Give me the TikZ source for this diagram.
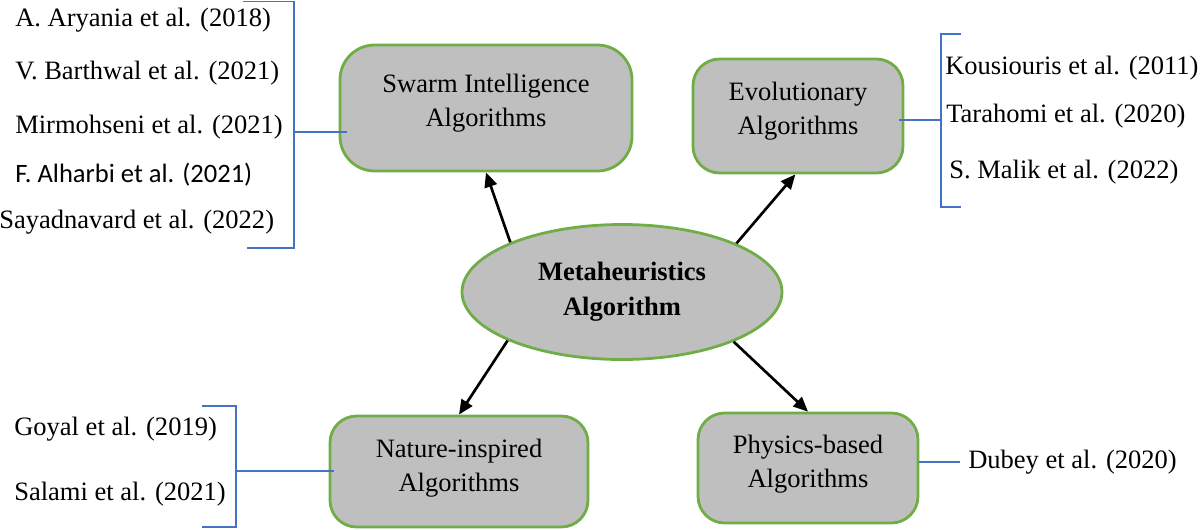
\documentclass[tikz,border=0pt]{standalone}
\usepackage{fontspec}
\setmainfont{Liberation Serif}
\newfontfamily\calfont{Carlito}
\usetikzlibrary{shapes.geometric,arrows.meta}
\definecolor{boxgreen}{HTML}{70AD47}
\definecolor{boxgray}{HTML}{BFBFBF}
\definecolor{brblue}{HTML}{4472C4}
\begin{document}
\begin{tikzpicture}[x=0.75pt,y=-0.75pt,
  every node/.style={font=\fontsize{19.9}{25.5}\selectfont},
  algbox/.style={draw=boxgreen, fill=boxgray, line width=2.1pt, rounded corners=20pt, inner sep=0pt},
  boxtext/.style={align=center, inner sep=0pt},
  reftext/.style={inner sep=0pt, anchor=west},
  bl/.style={draw=brblue, line width=1.1pt},
  arr/.style={line width=2pt, -{Triangle[length=11pt,width=9.5pt]}}]
\useasboundingbox (0,0) rectangle (1200,529);

% category boxes
\node[algbox, minimum width=219pt, minimum height=94.5pt, rounded corners=26pt] (swarm) at (486,108) {};
\node[boxtext] (swarmt) at ([yshift=3.5pt]swarm.center) {Swarm Intelligence\\Algorithms};
\node[algbox, minimum width=157.5pt, minimum height=85.5pt] (evo) at (798,116) {};
\node[boxtext] (evot) at ([yshift=4pt]evo.center) {Evolutionary\\Algorithms};
\node[algbox, minimum width=193.5pt, minimum height=83.25pt] (nature) at (459,471.5) {};
\node[boxtext] (naturet) at ([yshift=2.5pt]nature.center) {Nature-inspired\\Algorithms};
\node[algbox, minimum width=165pt, minimum height=82.5pt] (phys) at (808,468) {};
\node[boxtext] (physt) at ([yshift=3pt]phys.center) {Physics-based\\Algorithms};

% central ellipse
\node[ellipse, draw=boxgreen, fill=boxgray, line width=2.1pt, minimum width=240pt, minimum height=101.25pt,
      inner sep=0pt, align=center, font=\fontsize{19.9}{26}\selectfont\bfseries] (meta) at (622,292) {Metaheuristics\\Algorithm};

% arrows
\draw[arr] (meta.156.7) -- (swarm.south);
\draw[arr] (meta.23.4) -- ([xshift=-2pt]evo.south);
\draw[arr] (meta.203.3) -- (nature.north);
\draw[arr] (meta.336.6) -- (phys.north);

% swarm references
\coordinate (sb1) at (243,1.5);
\coordinate (sb2) at (294,1.5);
\coordinate (sb3) at (294,248);
\coordinate (sb4) at (247,248);
\coordinate (sj) at (294,132);
\draw[bl] (sb1) -- (sb2) -- (sb3) -- (sb4);
\draw[bl] (sj) -- ([xshift=6pt]sj -| swarm.west);
\node[reftext] (r1) at (15,20) {A. Aryania et al. (2018)};
\node[reftext] (r2) at (15,73) {V. Barthwal et al. (2021)};
\node[reftext] (r3) at (15,127) {Mirmohseni et al. (2021)};
\node[reftext] (r4) at (15,175) {\calfont F. Alharbi et al. (2021)};
\node[reftext] (r5) at (-1,222) {Sayadnavard et al. (2022)};

% evolutionary references
\coordinate (eb1) at (961,34);
\coordinate (eb2) at (941,34);
\coordinate (eb3) at (941,207);
\coordinate (eb4) at (961,207);
\coordinate (ej) at (941,120);
\draw[bl] (eb1) -- (eb2) -- (eb3) -- (eb4);
\draw[bl] (ej) -- ([xshift=-4pt]ej -| evo.east);
\node[reftext] (r6) at (945,68) {Kousiouris et al. (2011)};
\node[reftext] (r7) at (946,116) {Tarahomi et al. (2020)};
\node[reftext] (r8) at (949,172) {S. Malik et al. (2022)};

% nature references
\coordinate (nb1) at (202,406);
\coordinate (nb2) at (236,406);
\coordinate (nb3) at (236,527);
\coordinate (nb4) at (202,527);
\coordinate (nj) at (236,471);
\draw[bl] (nb1) -- (nb2) -- (nb3) -- (nb4);
\draw[bl] (nj) -- ([xshift=4pt]nj -| nature.west);
\node[reftext] (r9) at (14,429) {Goyal et al. (2019)};
\node[reftext] (r10) at (14,494) {Salami et al. (2021)};

% physics references
\coordinate (pj) at (960,462);
\draw[bl] (pj -| phys.east) -- (pj);
\node[reftext] (r11) at (968,462) {Dubey et al. (2020)};
\end{tikzpicture}
\end{document}
